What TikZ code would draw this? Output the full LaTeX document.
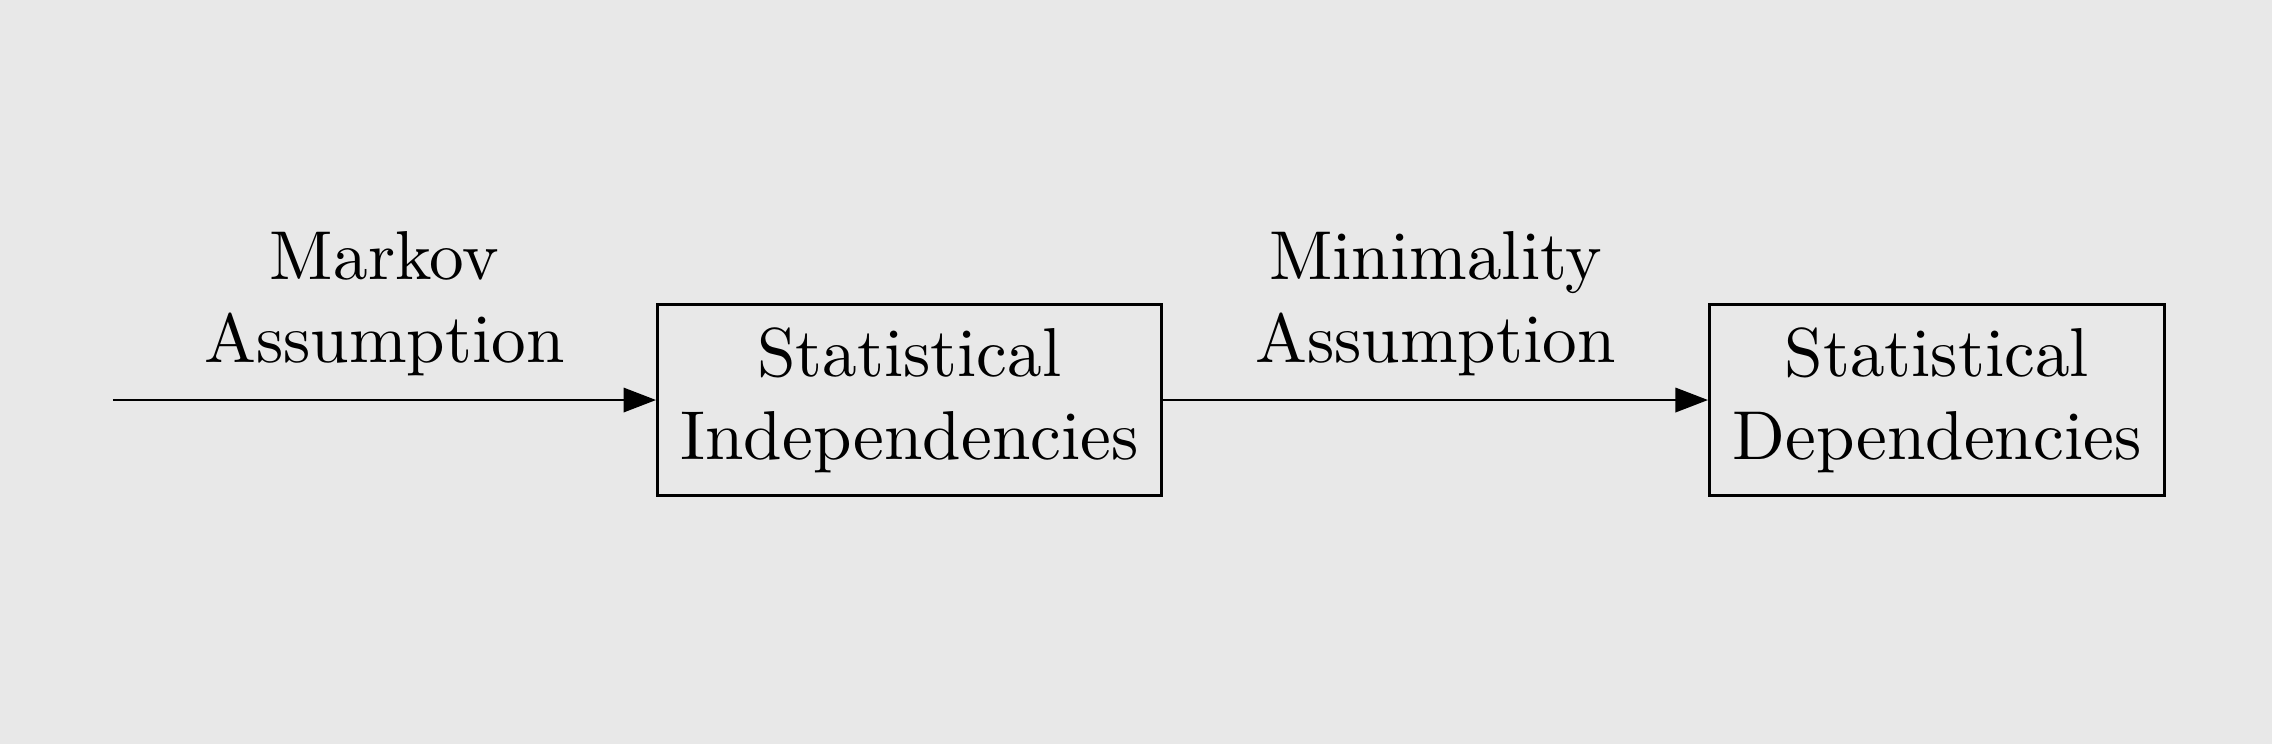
\documentclass[tikz,border=0pt]{standalone}
\usetikzlibrary{arrows.meta}
\definecolor{bgcol}{HTML}{E8E8E8}
\begin{document}
\begin{tikzpicture}[x=1pt,y=1pt,
  box/.style={draw, line width=0.4pt, align=center, anchor=west, inner sep=3.33pt},
  conn/.style={line width=0.4pt, -{Triangle[length=4.7pt,width=3.5pt]}},
  lab/.style={above, align=center}]
\fill[bgcol] (0,0) rectangle (328.3,-107.5);
\useasboundingbox (0,0) rectangle (328.3,-107.5);
\coordinate (start) at (16.3,-57.8);
\node[box] (indep) at (94.8,-57.8) {Statistical\\Independencies};
\node[box] (dep) at (246.8,-57.8) {Statistical\\Dependencies};
\draw[conn] (start) -- node[lab] {Markov\\Assumption} (indep);
\draw[conn] (indep) -- node[lab] {Minimality\\Assumption} (dep);
\end{tikzpicture}
\end{document}
